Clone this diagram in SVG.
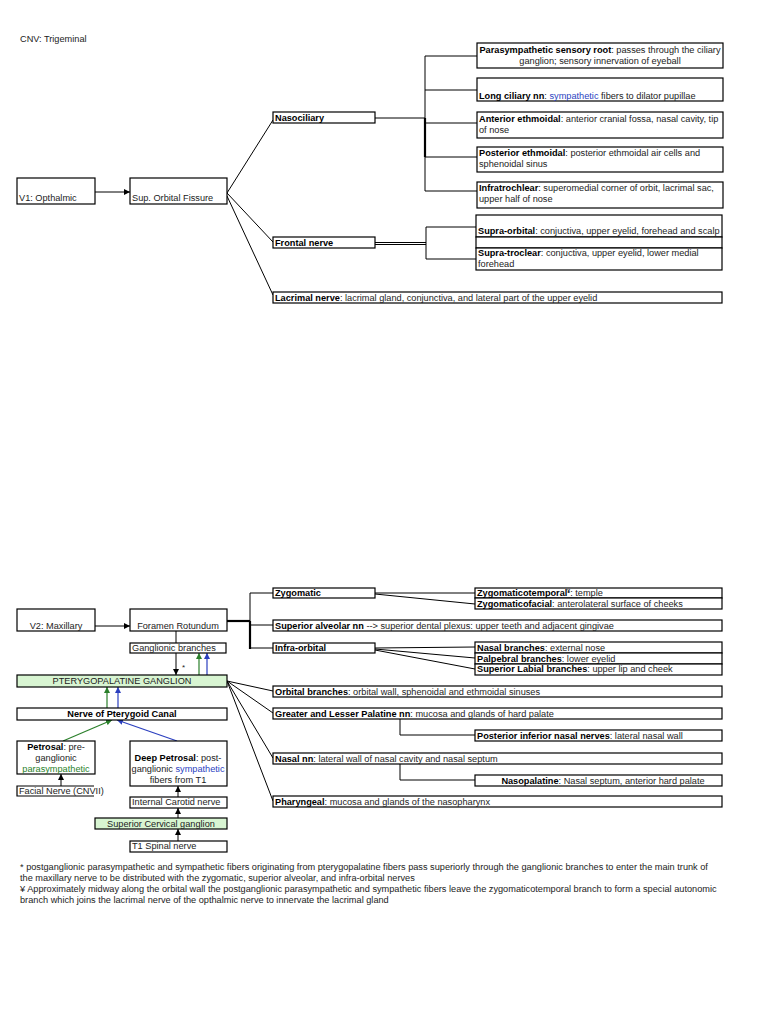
<svg xmlns="http://www.w3.org/2000/svg" width="768" height="1024" viewBox="0 0 768 1024">
<style>
text{font-family:"Liberation Sans",Arial,sans-serif;font-size:9.2px;fill:#222}
.b{font-weight:bold;fill:#000}
.c{text-anchor:middle}
.box{fill:#fff;stroke:#000;stroke-width:1.2}
.gbox{fill:#d8f5d2;stroke:#000;stroke-width:1.2}
.ln{fill:none;stroke:#000;stroke-width:1}
.thk{fill:none;stroke:#000;stroke-width:2.2}
.g{fill:none;stroke:#2a7f2a;stroke-width:1.2}
.bl{fill:none;stroke:#2b3fbf;stroke-width:1.2}
.gt{fill:#2a7f2a}
.blt{fill:#2b3fbf}
</style>
<defs>
<marker id="ak" viewBox="0 0 10 10" refX="10" refY="5" markerWidth="6" markerHeight="6" markerUnits="userSpaceOnUse" orient="auto"><path d="M0,0L10,5L0,10z" fill="#000"/></marker>
<marker id="ag" viewBox="0 0 10 10" refX="10" refY="5" markerWidth="6" markerHeight="6" markerUnits="userSpaceOnUse" orient="auto"><path d="M0,0L10,5L0,10z" fill="#2a7f2a"/></marker>
<marker id="ab" viewBox="0 0 10 10" refX="10" refY="5" markerWidth="6" markerHeight="6" markerUnits="userSpaceOnUse" orient="auto"><path d="M0,0L10,5L0,10z" fill="#2b3fbf"/></marker>
</defs>
<rect width="768" height="1024" fill="#fff"/>
<text x="20" y="42">CNV: Trigeminal</text>

<g id="connectors">
<line class="ln" x1="95" y1="192" x2="130" y2="192" marker-end="url(#ak)"/>
<line class="ln" x1="227" y1="193" x2="273" y2="120"/>
<line class="ln" x1="227" y1="193" x2="273" y2="242"/>
<line class="ln" x1="227" y1="196" x2="273" y2="295"/>
<line class="ln" x1="375" y1="118" x2="425" y2="118"/>
<line class="ln" x1="425" y1="56" x2="425" y2="191"/>
<line class="thk" x1="425" y1="118" x2="425" y2="157"/>
<line class="ln" x1="425" y1="56" x2="477" y2="56"/>
<line class="ln" x1="425" y1="90" x2="477" y2="90"/>
<line class="ln" x1="425" y1="123" x2="477" y2="123"/>
<line class="ln" x1="425" y1="157" x2="477" y2="157"/>
<line class="ln" x1="425" y1="191" x2="477" y2="191"/>
<line class="ln" x1="375" y1="242.5" x2="426" y2="242.5"/>
<line class="ln" x1="375" y1="244.5" x2="426" y2="244.5"/>
<line class="ln" x1="426" y1="227" x2="426" y2="259"/>
<line class="ln" x1="426" y1="227" x2="476" y2="227"/>
<line class="ln" x1="426" y1="259" x2="476" y2="259"/>

<line class="ln" x1="95" y1="626" x2="130" y2="626" marker-end="url(#ak)"/>
<line class="thk" x1="227" y1="621" x2="250" y2="621"/>
<line class="ln" x1="250" y1="593" x2="250" y2="649"/>
<line class="thk" x1="250" y1="621" x2="250" y2="649"/>
<line class="ln" x1="250" y1="593" x2="273" y2="593"/>
<line class="ln" x1="250" y1="625" x2="273" y2="625"/>
<line class="ln" x1="250" y1="648" x2="273" y2="648"/>
<line class="ln" x1="375" y1="593" x2="475" y2="593"/>
<line class="ln" x1="375" y1="594" x2="475" y2="604"/>
<line class="ln" x1="375" y1="648" x2="475" y2="647"/>
<line class="ln" x1="375" y1="649" x2="475" y2="658"/>
<line class="ln" x1="375" y1="650" x2="475" y2="669"/>
<line class="ln" x1="176" y1="631" x2="176" y2="643"/>
<line class="ln" x1="176" y1="653" x2="176" y2="675" marker-end="url(#ak)"/>
<line class="g" x1="199" y1="675" x2="199" y2="653" marker-end="url(#ag)"/>
<line class="bl" x1="207" y1="675" x2="207" y2="653" marker-end="url(#ab)"/>
<line class="g" x1="107" y1="708" x2="107" y2="687" marker-end="url(#ag)"/>
<line class="bl" x1="118" y1="708" x2="118" y2="687" marker-end="url(#ab)"/>
<line class="g" x1="63" y1="741" x2="112" y2="720" marker-end="url(#ag)"/>
<line class="bl" x1="177" y1="741" x2="117" y2="720" marker-end="url(#ab)"/>
<line class="ln" x1="61" y1="786" x2="61" y2="774" marker-end="url(#ak)"/>
<line class="ln" x1="178" y1="797" x2="178" y2="786" marker-end="url(#ak)"/>
<line class="ln" x1="178" y1="818" x2="178" y2="808" marker-end="url(#ak)"/>
<line class="ln" x1="178" y1="841" x2="178" y2="829" marker-end="url(#ak)"/>
<line class="ln" x1="227" y1="681" x2="273" y2="691"/>
<line class="ln" x1="227" y1="681" x2="273" y2="713"/>
<line class="ln" x1="227" y1="681" x2="273" y2="758"/>
<line class="ln" x1="227" y1="681" x2="273" y2="801"/>
<polyline class="ln" points="400,719 400,735 475,735"/>
<polyline class="ln" points="400,764 400,780 475,780"/>
</g>

<g id="v1"><rect class="box" x="17" y="178" width="78" height="26"/><text x="19" y="201">V1: Opthalmic</text></g>
<g id="sof"><rect class="box" x="130" y="178" width="97" height="26"/><text x="132" y="201">Sup. Orbital Fissure</text></g>
<g id="nasociliary"><rect class="box" x="273" y="112" width="102" height="11"/><text x="275" y="121" class="b">Nasociliary</text></g>
<g id="frontal"><rect class="box" x="273" y="237" width="102" height="11"/><text x="275" y="246" class="b">Frontal nerve</text></g>
<g id="lacrimal"><rect class="box" x="273" y="292" width="449" height="11"/><text x="275" y="301"><tspan class="b">Lacrimal nerve</tspan>: lacrimal gland, conjunctiva, and lateral part of the upper eyelid</text></g>
<g id="parasym"><rect class="box" x="477" y="43" width="246" height="25"/><text x="600" y="53" class="c"><tspan class="b">Parasympathetic sensory root</tspan>: passes through the ciliary</text><text x="600" y="64" class="c">ganglion; sensory innervation of eyeball</text></g>
<g id="longciliary"><rect class="box" x="477" y="78" width="246" height="23"/><text x="479" y="99"><tspan class="b">Long ciliary nn</tspan>: <tspan class="blt">sympathetic</tspan> fibers to dilator pupillae</text></g>
<g id="antethm"><rect class="box" x="477" y="112" width="246" height="26"/><text x="479" y="122"><tspan class="b">Anterior ethmoidal</tspan>: anterior cranial fossa, nasal cavity, tip</text><text x="479" y="133">of nose</text></g>
<g id="postethm"><rect class="box" x="477" y="147" width="246" height="25"/><text x="479" y="156"><tspan class="b">Posterior ethmoidal</tspan>: posterior ethmoidal air cells and</text><text x="479" y="167">sphenoidal sinus</text></g>
<g id="infratroch"><rect class="box" x="477" y="182" width="246" height="26"/><text x="479" y="191"><tspan class="b">Infratrochlear</tspan>: superomedial corner of orbit, lacrimal sac,</text><text x="479" y="202">upper half of nose</text></g>
<g id="supraorb"><rect class="box" x="476" y="215" width="246" height="22"/><rect class="box" x="476" y="237" width="246" height="11"/><text x="478" y="234"><tspan class="b">Supra-orbital</tspan>: conjuctiva, upper eyelid, forehead and scalp</text></g>
<g id="supratroc"><rect class="box" x="476" y="248" width="246" height="22"/><text x="478" y="256"><tspan class="b">Supra-troclear</tspan>: conjuctiva, upper eyelid, lower medial</text><text x="478" y="267">forehead</text></g>

<g id="v2"><rect class="box" x="17" y="609" width="78" height="22"/><text x="56" y="629" class="c">V2: Maxillary</text></g>
<g id="foramen"><rect class="box" x="130" y="609" width="97" height="22"/><text x="178" y="629" class="c">Foramen Rotundum</text></g>
<g id="ganglionic"><rect class="box" x="130" y="643" width="96" height="10"/><text x="132" y="651">Ganglionic branches</text></g>
<text x="182" y="670" style="font-size:8px">*</text>
<g id="ptery"><rect class="gbox" x="17" y="675" width="210" height="12"/><text x="122" y="684" class="c">PTERYGOPALATINE GANGLION</text></g>
<g id="nervepc"><rect class="box" x="17" y="708" width="210" height="12"/><text x="122" y="717" class="c b">Nerve of Pterygoid Canal</text></g>
<g id="petrosal"><rect class="box" x="17" y="741" width="78" height="33"/><text x="56" y="750" class="c"><tspan class="b">Petrosal</tspan>: pre-</text><text x="56" y="761" class="c">ganglionic</text><text x="56" y="772" class="c gt">parasympathetic</text></g>
<g id="facial"><path d="M94,786H17V796H94" fill="#fff" stroke="#000" stroke-width="1.2"/><text x="19" y="794">Facial Nerve (CNVII)</text></g>
<g id="deeppet"><rect class="box" x="130" y="741" width="97" height="45"/><text x="178" y="761" class="c"><tspan class="b">Deep Petrosal</tspan>: post-</text><text x="178" y="772" class="c">ganglionic <tspan class="blt">sympathetic</tspan></text><text x="178" y="783" class="c">fibers from T1</text></g>
<g id="intcarotid"><rect class="box" x="130" y="797" width="97" height="11"/><text x="132" y="805">Internal Carotid nerve</text></g>
<g id="supcerv"><rect class="gbox" x="95" y="818" width="132" height="11"/><text x="161" y="827" class="c">Superior Cervical ganglion</text></g>
<g id="t1"><rect class="box" x="130" y="841" width="97" height="11"/><text x="132" y="849">T1 Spinal nerve</text></g>

<g id="zygomatic"><rect class="box" x="273" y="588" width="102" height="10"/><text x="275" y="596" class="b">Zygomatic</text></g>
<g id="zygtemp"><rect class="box" x="475" y="588" width="247" height="10"/><text x="477" y="596"><tspan class="b">Zygomaticotemporal</tspan><tspan class="b" dy="-3" style="font-size:5px">¥</tspan><tspan dy="3">: temple</tspan></text></g>
<g id="zygfac"><rect class="box" x="475" y="598" width="247" height="11"/><text x="477" y="607"><tspan class="b">Zygomaticofacial</tspan>: anterolateral surface of cheeks</text></g>
<g id="supalv"><rect class="box" x="273" y="620" width="449" height="11"/><text x="275" y="629"><tspan class="b">Superior alveolar nn</tspan> --&gt; superior dental plexus: upper teeth and adjacent gingivae</text></g>
<g id="infraorb"><rect class="box" x="273" y="643" width="102" height="10"/><text x="275" y="651" class="b">Infra-orbital</text></g>
<g id="nasalbr"><rect class="box" x="475" y="642" width="247" height="11"/><text x="477" y="651"><tspan class="b">Nasal branches</tspan>: external nose</text></g>
<g id="palpebral"><rect class="box" x="475" y="653" width="247" height="11"/><text x="477" y="662"><tspan class="b">Palpebral branches</tspan>: lower eyelid</text></g>
<g id="suplabial"><rect class="box" x="475" y="664" width="247" height="11"/><text x="477" y="672"><tspan class="b">Superior Labial branches</tspan>: upper lip and cheek</text></g>
<g id="orbital"><rect class="box" x="273" y="686" width="449" height="11"/><text x="275" y="695"><tspan class="b">Orbital branches</tspan>: orbital wall, sphenoidal and ethmoidal sinuses</text></g>
<g id="palatine"><rect class="box" x="273" y="708" width="449" height="11"/><text x="275" y="717"><tspan class="b">Greater and Lesser Palatine nn</tspan>: mucosa and glands of hard palate</text></g>
<g id="postinf"><rect class="box" x="475" y="730" width="247" height="11"/><text x="477" y="739"><tspan class="b">Posterior inferior nasal nerves</tspan>: lateral nasal wall</text></g>
<g id="nasalnn"><rect class="box" x="273" y="753" width="449" height="11"/><text x="275" y="762"><tspan class="b">Nasal nn</tspan>: lateral wall of nasal cavity and nasal septum</text></g>
<g id="nasopal"><rect class="box" x="475" y="775" width="247" height="11"/><text x="603" y="784" class="c"><tspan class="b">Nasopalatine</tspan>: Nasal septum, anterior hard palate</text></g>
<g id="pharyngeal"><rect class="box" x="273" y="796" width="449" height="11"/><text x="275" y="805"><tspan class="b">Pharyngeal</tspan>: mucosa and glands of the nasopharynx</text></g>

<g id="notes">
<text x="20" y="870">* postganglionic parasympathetic and sympathetic fibers originating from pterygopalatine fibers pass superiorly through the ganglionic branches to enter the main trunk of</text>
<text x="20" y="881">the maxillary nerve to be distributed with the zygomatic, superior alveolar, and infra-orbital nerves</text>
<text x="20" y="892">¥ Approximately midway along the orbital wall the postganglionic parasympathetic and sympathetic fibers leave the zygomaticotemporal branch to form a special autonomic</text>
<text x="20" y="903">branch which joins the lacrimal nerve of the opthalmic nerve to innervate the lacrimal gland</text>
</g>
</svg>
